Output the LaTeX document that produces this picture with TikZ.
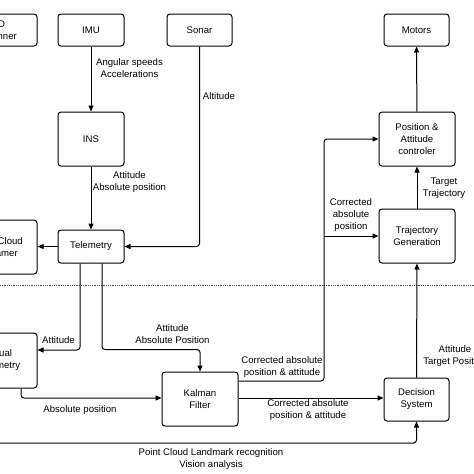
\documentclass[tikz,border=0pt]{standalone}
\usepackage{fontspec}
\setmainfont{Liberation Sans}
\usetikzlibrary{arrows.meta}

\begin{document}
\begin{tikzpicture}[x=1pt, y=-1pt,
    font=\fontsize{9.6}{12}\selectfont,
    box/.style={draw, line width=1pt, rounded corners=3pt, fill=white, align=center, inner sep=1pt},
    flow/.style={-{Triangle[length=6pt,width=5pt]}, line width=1pt, rounded corners=3pt},
    line/.style={line width=1pt, rounded corners=3pt},
    lbl/.style={align=center, inner sep=1pt}]

    \clip (0,0) rectangle (474,474);
    \fill[white] (0,0) rectangle (474,474);

    % upper part
    \node[box, minimum width=76pt, minimum height=32pt] (scanner)  at (-1,30)     {3D\\Scanner};
    \node[box, minimum width=66pt, minimum height=32pt] (imu)      at (91,30)     {IMU};
    \node[box, minimum width=65pt, minimum height=32pt] (sonar)    at (199.5,30)  {Sonar};
    \node[box, minimum width=65pt, minimum height=32pt] (motors)   at (416.5,30)  {Motors};
    \node[box, minimum width=66pt, minimum height=54pt] (ins)      at (91,139)    {INS};
    \node[box, minimum width=76pt, minimum height=54pt] (posctrl)  at (417,139)   {Position \&\\Attitude\\controler};
    \node[box, minimum width=78pt, minimum height=54pt] (streamer) at (-2,247)    {Point Cloud\\Streamer};
    \node[box, minimum width=66pt, minimum height=33pt] (telem)    at (91,246.5)  {Telemetry};
    \node[box, minimum width=76pt, minimum height=54pt] (trajgen)  at (417,236)   {Trajectory\\Generation};

    % lower part
    \node[box, minimum width=76pt, minimum height=55pt] (visodo)   at (-1,360.5)  {Visual\\Odometry};
    \node[box, minimum width=76pt, minimum height=54pt] (kalman)   at (200,399)   {Kalman\\Filter};
    \node[box, minimum width=65pt, minimum height=43pt] (decision) at (416.5,399.5) {Decision\\System};

    \draw[densely dotted, line width=0.8pt, black!70] (0,285) -- (474,285);

    \coordinate (split) at (324,236);
    \coordinate (vision) at (-10,443);

    \draw[flow] (imu) -- (ins);
    \draw[flow] (ins) -- (telem);
    \draw[flow] (sonar.south) |- (telem.east);
    \draw[flow] (telem.west) -- (telem.west -| streamer.east);
    \draw[flow] ([xshift=-11pt]telem.south) |- ([yshift=10.5pt]visodo.east);
    \draw[flow] ([xshift=11pt]telem.south) |- ([yshift=22pt]kalman.north) -- (kalman.north);
    \draw[flow] ([xshift=22pt]visodo.south) |- ([yshift=1pt]kalman.west);
    \draw[line] ([yshift=18pt]kalman.east) -| (split);
    \draw[flow] (split) -- (split -| trajgen.west);
    \draw[flow] (split) |- (posctrl.west);
    \draw[flow] ([yshift=1pt]kalman.east) -- ([yshift=1pt]kalman.east -| decision.west);
    \draw[flow] (decision) -- (trajgen);
    \draw[flow] (trajgen) -- (posctrl);
    \draw[flow] (posctrl) -- (motors);
    \draw[flow] (vision) -| (decision.south);

    % labels
    \node[lbl] at (129.5,68)  {Angular speeds\\Accelerations};
    \node[lbl] at (219,96)    {Altitude};
    \node[lbl] at (129.5,182.5) {Attitude\\Absolute position};
    \node[lbl] at (58.5,340)  {Attitude};
    \node[lbl] at (172.5,334) {Attitude\\Absolute Position};
    \node[lbl] at (80,410)    {Absolute position};
    \node[lbl] at (282,367)   {Corrected absolute\\position \& attitude};
    \node[lbl] at (308,410.5) {Corrected absolute\\position \& attitude};
    \node[lbl] at (351,215)   {Corrected\\absolute\\position};
    \node[lbl] at (444,188)   {Target\\Trajectory};
    \node[lbl] at (455,356.5) {Attitude\\Target Position};
    \node[lbl] at (211,459.5) {Point Cloud Landmark recognition\\Vision analysis};
\end{tikzpicture}
\end{document}
